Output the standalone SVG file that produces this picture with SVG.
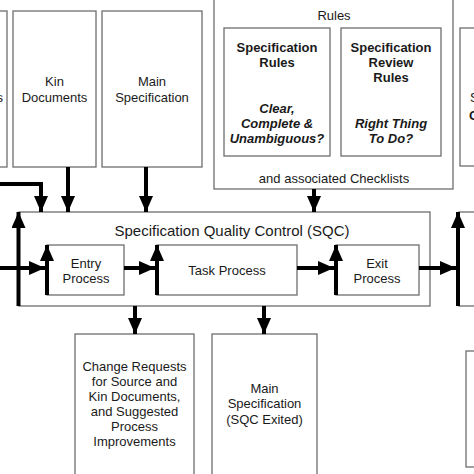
<svg xmlns="http://www.w3.org/2000/svg" width="474" height="474" viewBox="0 0 474 474">
<style>
.box{fill:#fff;stroke:#6e6e6e;stroke-width:1.3}
.t{font-family:"Liberation Sans",Arial,sans-serif;font-size:13px;fill:#1a1a1a;text-anchor:middle}
.b{font-weight:bold}
.i{font-style:italic;font-weight:bold}
.c{fill:none;stroke:#000;stroke-width:4}
.a{marker-end:url(#ah)}
</style>
<defs>
<marker id="ah" markerUnits="userSpaceOnUse" markerWidth="16" markerHeight="14" viewBox="0 0 16 14" refX="16" refY="7" orient="auto">
<path d="M0,0 L16,7 L0,14 Z" fill="#000"/>
</marker>
</defs>
<rect width="474" height="474" fill="#fff"/>

<g id="source-docs">
<rect class="box" x="-20" y="11" width="27" height="156"/>
<text class="t" x="3" y="102" style="text-anchor:end">Documents</text>
</g>
<g id="kin-docs">
<rect class="box" x="13" y="11" width="83" height="156"/>
<text class="t" x="54.5" y="86">Kin</text>
<text class="t" x="54.5" y="102">Documents</text>
</g>
<g id="main-spec">
<rect class="box" x="102" y="11" width="100" height="156"/>
<text class="t" x="152" y="86">Main</text>
<text class="t" x="152" y="102">Specification</text>
</g>
<g id="rules">
<rect class="box" x="214" y="-5" width="239" height="194"/>
<text class="t" x="334" y="20">Rules</text>
<text class="t" x="334" y="183">and associated Checklists</text>
</g>
<g id="spec-rules">
<rect class="box" x="224" y="28" width="106" height="128"/>
<text class="t b" x="277" y="52">Specification</text>
<text class="t b" x="277" y="67">Rules</text>
<text class="t i" x="277" y="113">Clear,</text>
<text class="t i" x="277" y="128">Complete &amp;</text>
<text class="t i" x="277" y="143">Unambiguous?</text>
</g>
<g id="spec-review-rules">
<rect class="box" x="341" y="28" width="100" height="128"/>
<text class="t b" x="391" y="52">Specification</text>
<text class="t b" x="391" y="67">Review</text>
<text class="t b" x="391" y="82">Rules</text>
<text class="t i" x="391" y="128">Right Thing</text>
<text class="t i" x="391" y="143">To Do?</text>
</g>
<g id="right-top">
<rect class="box" x="460" y="28" width="30" height="138"/>
<text class="t" x="470" y="102" style="text-anchor:start">S</text>
<text class="t b" x="469" y="120" style="text-anchor:start">C</text>
</g>
<g id="sqc">
<rect class="box" x="19" y="212" width="411" height="94"/>
<text class="t" x="232" y="236" style="font-size:15px">Specification Quality Control (SQC)</text>
</g>
<g id="entry">
<rect class="box" x="47" y="245" width="77" height="50"/>
<text class="t" x="86" y="268">Entry</text>
<text class="t" x="86" y="283">Process</text>
</g>
<g id="task">
<rect class="box" x="157" y="245" width="140" height="50"/>
<text class="t" x="227" y="275">Task Process</text>
</g>
<g id="exit">
<rect class="box" x="336" y="245" width="83" height="50"/>
<text class="t" x="377" y="268">Exit</text>
<text class="t" x="377" y="283">Process</text>
</g>
<g id="right-mid">
<rect class="box" x="459" y="212" width="30" height="94"/>
</g>
<g id="right-bottom">
<rect class="box" x="466" y="351" width="30" height="116"/>
</g>
<g id="change-requests">
<rect class="box" x="75" y="334" width="119" height="150"/>
<text class="t" x="134.5" y="371">Change Requests</text>
<text class="t" x="134.5" y="386">for Source and</text>
<text class="t" x="134.5" y="401">Kin Documents,</text>
<text class="t" x="134.5" y="416">and Suggested</text>
<text class="t" x="134.5" y="431">Process</text>
<text class="t" x="134.5" y="446">Improvements</text>
</g>
<g id="main-spec-exited">
<rect class="box" x="212" y="334" width="105" height="150"/>
<text class="t" x="264.5" y="393">Main</text>
<text class="t" x="264.5" y="408">Specification</text>
<text class="t" x="264.5" y="424">(SQC Exited)</text>
</g>

<g id="connectors">
<path class="c a" d="M-2,184 H41 V212"/>
<path class="c a" d="M68,167 V212"/>
<path class="c a" d="M146,167 V212"/>
<path class="c a" d="M314,189 V212"/>
<path class="c a" d="M18.5,306 V212"/>
<path class="c a" d="M-2,268 H45"/>
<path class="c a" d="M47,295 V245"/>
<path class="c a" d="M124,268 H155"/>
<path class="c a" d="M157,295 V245"/>
<path class="c a" d="M297,268 H334"/>
<path class="c a" d="M336,295 V245"/>
<path class="c a" d="M419,268 H456"/>
<path class="c a" d="M458,306 V212"/>
<path class="c a" d="M135,306 V334"/>
<path class="c a" d="M264,306 V334"/>
</g>
</svg>
